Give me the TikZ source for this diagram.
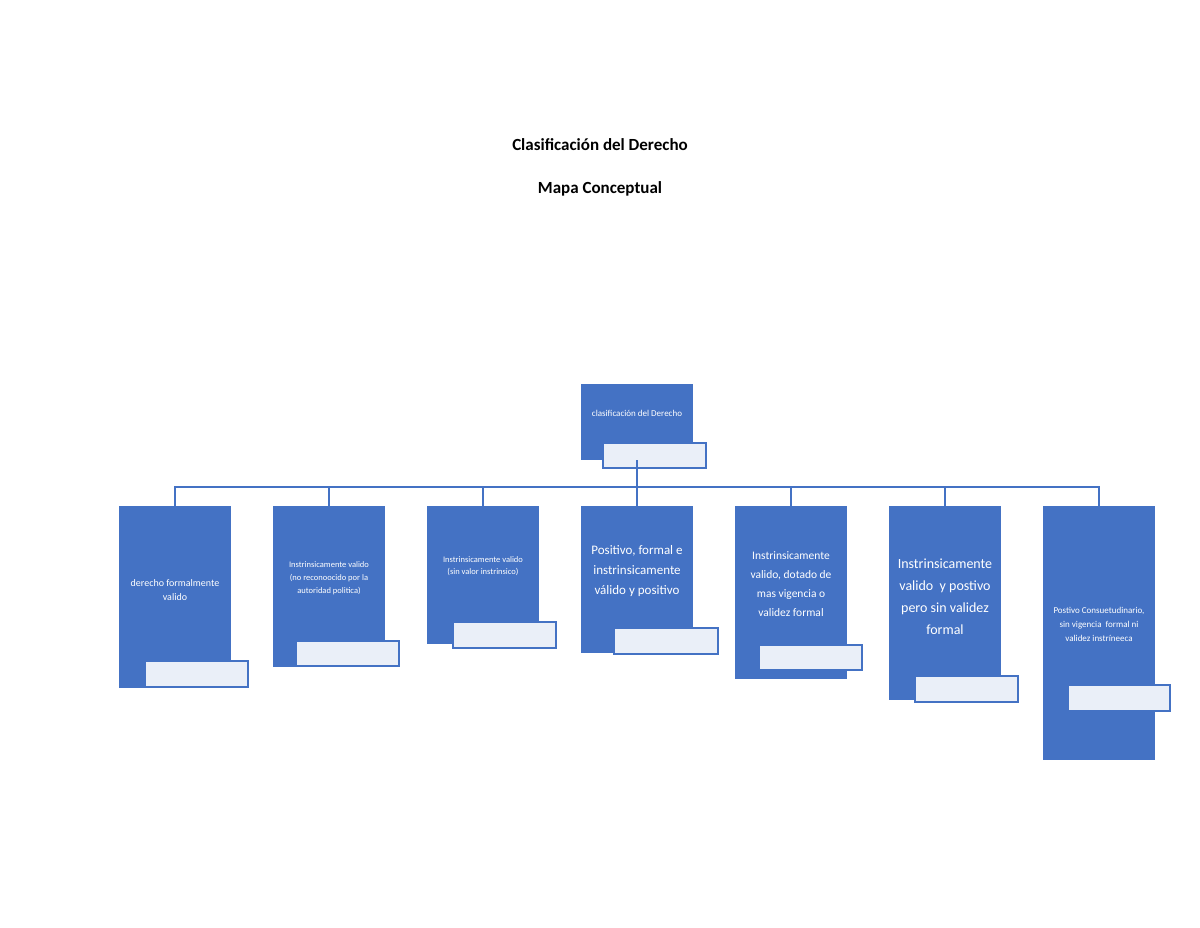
\documentclass[tikz,border=0pt]{standalone}
\usepackage{fontspec}
\setmainfont{Carlito}
\begin{document}
\begin{tikzpicture}[x=1pt,y=-1pt,
 big/.style={fill={rgb,255:red,68;green,114;blue,196}},
 sm/.style={fill={rgb,255:red,234;green,239;blue,248},draw={rgb,255:red,68;green,114;blue,196},line width=1.5pt},
 lbl/.style={text=white,align=center,inner sep=0pt},
 ln/.style={draw={rgb,255:red,68;green,114;blue,196},line width=1.5pt}]
\useasboundingbox (0,0) rectangle (1200,927);
\node[font=\bfseries\fontsize{17}{20}\selectfont] (t1) at (600,145) {Clasificación del Derecho};
\node[font=\bfseries\fontsize{17}{20}\selectfont] (t2) at (600,189) {Mapa Conceptual};
\fill[big] (581,384) rectangle (693,460); \draw[sm] (603,443) rectangle (706,468);
\node[lbl,font=\fontsize{9}{11}\selectfont] (r) at (637,413) {clasificación del Derecho};
\coordinate (rb) at (637,460); \coordinate (hy) at (637,487);
\draw[ln] (rb) -- (hy);
\draw[ln] (175,506) -- (175,487) -- (1099,487) -- (1099,506);
\foreach \x in {329,483,637,791,945} \draw[ln] (\x,487) -- (\x,506);
\fill[big] (119,506) rectangle (231,688); \draw[sm] (145,661) rectangle (248,687);
\node[lbl,font=\fontsize{10}{14}\selectfont] (b1) at (175,590) {derecho formalmente\\valido};
\fill[big] (273,506) rectangle (385,667); \draw[sm] (296,641) rectangle (399,666);
\node[lbl,font=\fontsize{8.5}{13}\selectfont] (b2) at (329,578) {Instrinsicamente valido\\(no reconoocido por la\\autoridad politica)};
\fill[big] (427,506) rectangle (539,644); \draw[sm] (453,622) rectangle (556,648);
\node[lbl,font=\fontsize{8.5}{12}\selectfont] (b3) at (483,566) {Instrinsicamente valido\\(sin valor instrinsico)};
\fill[big] (581,506) rectangle (693,653); \draw[sm] (614,628) rectangle (718,654);
\node[lbl,font=\fontsize{13}{20}\selectfont] (b4) at (637,571) {Positivo, formal e\\instrinsicamente\\válido y positivo};
\fill[big] (735,506) rectangle (847,679); \draw[sm] (759,645) rectangle (862,670);
\node[lbl,font=\fontsize{11.5}{19}\selectfont] (b5) at (791,584) {Instrinsicamente\\valido, dotado de\\mas vigencia o\\validez formal};
\fill[big] (889,506) rectangle (1001,700); \draw[sm] (915,676) rectangle (1018,702);
\node[lbl,font=\fontsize{14}{22}\selectfont] (b6) at (945,597) {Instrinsicamente\\valido\ \ y postivo\\pero sin validez\\formal};
\fill[big] (1043,506) rectangle (1155,760); \draw[sm] (1068,685) rectangle (1170,711);
\node[lbl,font=\fontsize{9}{14}\selectfont] (b7) at (1099,624) {Postivo Consuetudinario,\\sin vigencia\ \ formal ni\\validez instríneeca};
\end{tikzpicture}
\end{document}
